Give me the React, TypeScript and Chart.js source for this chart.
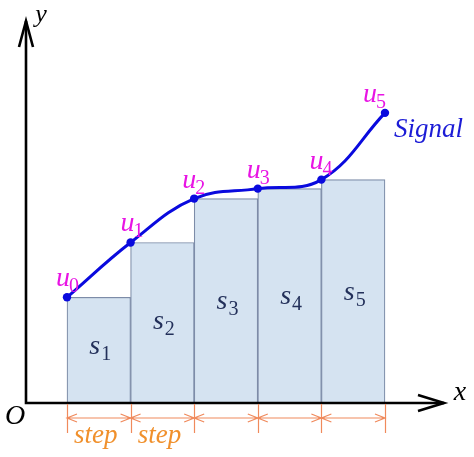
import React, { useEffect, useRef } from "react";
import { Chart, registerables } from "chart.js";

Chart.register(...registerables);

// Data
const signalX = [0, 1, 2, 3, 4, 5];
const signalValues = [1.06, 1.61, 2.05, 2.15, 2.24, 2.91];
const pointLabels = ["0", "1", "2", "3", "4", "5"];
const barCenters = [0.5, 1.5, 2.5, 3.5, 4.5];
const barValues = [1.06, 1.61, 2.05, 2.15, 2.24];
const barLabels = ["1", "2", "3", "4", "5"];
const stepLabels = ["step", "step"];
const seriesName = "Signal";

const SERIF = '"Liberation Serif", "Times New Roman", serif';

const overlay = {
  id: "overlay",
  afterDatasetsDraw(chart: any) {
    const { ctx, scales } = chart;
    const xs = scales.x;
    const ys = scales.y;
    const X = (v: number) => xs.getPixelForValue(v);
    const Y = (v: number) => ys.getPixelForValue(v);
    const ox = 26;
    const oy = Y(0);
    ctx.save();

    // s labels inside bars
    ctx.fillStyle = "#23305a";
    barCenters.forEach((c, i) => {
      const cx = X(c) - 4;
      const by = Y(barValues[i] * 0.46);
      ctx.font = `italic 28px ${SERIF}`;
      ctx.textAlign = "center";
      ctx.textBaseline = "alphabetic";
      ctx.fillText("s", cx, by);
      const w = ctx.measureText("s").width;
      ctx.font = `20px ${SERIF}`;
      ctx.textAlign = "left";
      ctx.fillText(barLabels[i], cx + w / 2 + 1, by + 6);
    });

    // axes
    ctx.strokeStyle = "#000";
    ctx.lineWidth = 2.6;
    ctx.lineCap = "butt";
    ctx.beginPath();
    ctx.moveTo(ox, 21);
    ctx.lineTo(ox, oy);
    ctx.lineTo(444, oy);
    ctx.stroke();
    ctx.lineJoin = "miter";
    ctx.beginPath();
    ctx.moveTo(ox - 7, 47);
    ctx.lineTo(ox, 21);
    ctx.lineTo(ox + 7, 47);
    ctx.stroke();
    ctx.beginPath();
    ctx.moveTo(418, oy - 8);
    ctx.lineTo(444, oy);
    ctx.lineTo(418, oy + 8);
    ctx.stroke();

    // axis labels
    ctx.fillStyle = "#000";
    ctx.textAlign = "center";
    ctx.textBaseline = "alphabetic";
    ctx.font = `italic 26px ${SERIF}`;
    ctx.fillText("y", 41, 22);
    ctx.font = `italic 28px ${SERIF}`;
    ctx.fillText("x", 460, 400);
    ctx.fillText("O", 15, 424);

    // step markers
    ctx.strokeStyle = "#f08a5c";
    ctx.lineWidth = 1.2;
    const edges = [0, 1, 2, 3, 4, 5];
    edges.forEach((e) => {
      const px = Math.round(X(e)) + 0.5;
      ctx.beginPath();
      ctx.moveTo(px, oy + 1);
      ctx.lineTo(px, 433);
      ctx.stroke();
    });
    const ay = 418;
    for (let i = 0; i < edges.length - 1; i++) {
      const a = X(edges[i]);
      const b = X(edges[i + 1]);
      ctx.beginPath();
      ctx.moveTo(a, ay);
      ctx.lineTo(b, ay);
      ctx.moveTo(a + 10, ay - 4);
      ctx.lineTo(a, ay);
      ctx.lineTo(a + 10, ay + 4);
      ctx.moveTo(b - 10, ay - 4);
      ctx.lineTo(b, ay);
      ctx.lineTo(b - 10, ay + 4);
      ctx.stroke();
    }
    ctx.fillStyle = "#f0902c";
    ctx.font = `italic 27px ${SERIF}`;
    ctx.textAlign = "center";
    stepLabels.forEach((t, i) => {
      ctx.fillText(t, X(barCenters[i]) - 3, 443);
    });

    // u labels
    const dx = [-4, -3, -5, -4, -5, -15];
    ctx.fillStyle = "#e814e4";
    signalX.forEach((xv, i) => {
      const cx = X(xv) + dx[i];
      const by = Y(signalValues[i]) - 11;
      ctx.font = `italic 28px ${SERIF}`;
      ctx.textAlign = "center";
      ctx.fillText("u", cx, by);
      const w = ctx.measureText("u").width;
      ctx.font = `20px ${SERIF}`;
      ctx.textAlign = "left";
      ctx.fillText(pointLabels[i], cx + w / 2 - 1, by + 6);
    });

    // series label
    ctx.fillStyle = "#1c1cd6";
    ctx.font = `italic 27px ${SERIF}`;
    ctx.textAlign = "left";
    ctx.fillText(seriesName, 394, 137);

    ctx.restore();
  },
};

export default function App() {
  const ref = useRef<HTMLCanvasElement>(null);
  useEffect(() => {
    if (!ref.current) return;
    const chart = new Chart(ref.current, {
      type: "bar",
      data: {
        datasets: [
          {
            type: "line",
            label: seriesName,
            data: signalX.map((x, i) => ({ x, y: signalValues[i] })),
            borderColor: "#0a0ade",
            backgroundColor: "#0a0ade",
            borderWidth: 3,
            pointRadius: 4.2,
            pointBackgroundColor: "#0a0ade",
            pointBorderWidth: 0,
            tension: 0.4,
            fill: false,
            order: 0,
          } as any,
          {
            type: "bar",
            label: "sums",
            data: barCenters.map((x, i) => ({ x, y: barValues[i] })),
            backgroundColor: "#d5e3f1",
            borderColor: "#7d8ca8",
            borderWidth: { top: 1.2, left: 1.2, right: 1.2, bottom: 0 },
            borderSkipped: false,
            barPercentage: 1,
            categoryPercentage: 1,
            grouped: false,
            order: 1,
          } as any,
        ],
      },
      options: {
        responsive: false,
        animation: false,
        datasets: { bar: { barPercentage: 1, categoryPercentage: 1 } } as any,
        layout: { padding: { left: 9.76, right: 12.7, top: 3, bottom: 4 } },
        plugins: { legend: { display: false }, tooltip: { enabled: false } },
        scales: {
          x: {
            type: "linear",
            min: -0.9,
            max: 6.2,
            offset: false,
            display: false,
            afterBuildTicks: (s: any) => {
              s.ticks = signalX.map((v) => ({ value: v }));
            },
          },
          y: { type: "linear", min: -0.5, max: 4.0, display: false },
        },
      },
      plugins: [overlay],
    });
    return () => chart.destroy();
  }, []);
  return (
    <div style={{ position: "fixed", left: 0, top: 0, width: 474, height: 457, background: "#fff" }}>
      <canvas ref={ref} width={474} height={457} style={{ width: 474, height: 457, display: "block" }} />
    </div>
  );
}
